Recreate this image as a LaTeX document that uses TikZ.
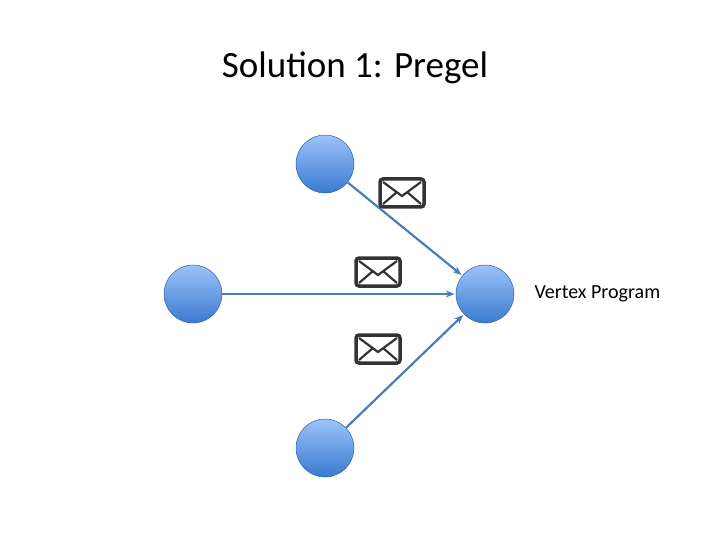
\documentclass[tikz,border=0pt]{standalone}
\usepackage{fontspec}
\setmainfont{Carlito}
\usetikzlibrary{arrows.meta}
\definecolor{vtop}{HTML}{9CC3FA}
\definecolor{vbot}{HTML}{3A7AD0}
\definecolor{edgec}{HTML}{4A7EBB}
\definecolor{envc}{HTML}{333333}
\tikzset{
  vert/.style={circle,minimum size=58pt,inner sep=0pt,top color=vtop,bottom color=vbot,draw=vbot!80!black,line width=0.5pt},
  msg/.style={edgec,line width=2.2pt,-{Stealth[length=9pt,width=7pt]},shorten >=1pt},
}
\newcommand{\envelope}[2]{%
  \begin{scope}[shift={(#1,#2)}]
    \draw[envc,line width=3.5pt,rounded corners=3pt,fill=white] (-22,-14) rectangle (22,14);
    \draw[envc,line width=2.2pt] (-19,-11) -- (0,3) -- (19,-11);
    \draw[envc,line width=2.2pt] (-19,11) -- (-5,-1);
    \draw[envc,line width=2.2pt] (19,11) -- (5,-1);
  \end{scope}}
\begin{document}
\begin{tikzpicture}[x=1pt,y=-1pt]
\useasboundingbox (0,0) rectangle (720,540);
\node (title) at (355,68) {\fontsize{37}{44}\selectfont Solution 1: Pregel};
\node[vert] (t) at (325,164) {};
\node[vert] (l) at (193,294) {};
\node[vert] (c) at (485,294) {};
\node[vert] (b) at (325,448) {};
\node[anchor=west] (lab) at (531,294) {\fontsize{20}{24}\selectfont Vertex Program};
\draw[msg] (t) -- (c);
\draw[msg] (l) -- (c);
\draw[msg] (b) -- (c);
\envelope{402}{193}
\envelope{378}{272}
\envelope{378}{349}
\end{tikzpicture}
\end{document}
